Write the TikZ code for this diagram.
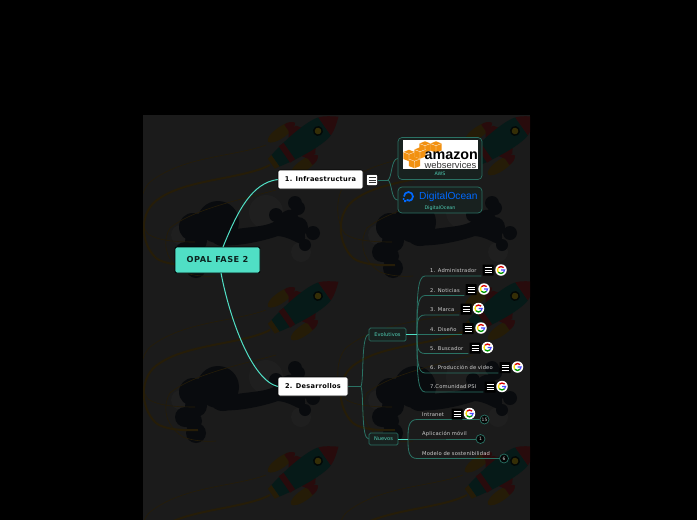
\documentclass[tikz,border=0pt]{standalone}
\usepackage{fontspec}
\setmainfont{DejaVu Sans}
\newfontfamily\logofont{Liberation Sans}
\usetikzlibrary{calc}
\definecolor{bgdark}{HTML}{1B1B1B}
\definecolor{mint}{HTML}{50DFC5}
\definecolor{dimteal}{HTML}{2A7264}
\definecolor{tealtext}{HTML}{4FCDB4}
\definecolor{boxfill}{HTML}{18211F}
\definecolor{leaftext}{HTML}{CFCFCF}
\definecolor{cloudA}{HTML}{090B0E}
\definecolor{cloudB}{HTML}{1F1F1F}
\definecolor{trail}{HTML}{261D08}
\definecolor{rbody}{HTML}{061A18}
\definecolor{rred}{HTML}{280B0C}
\definecolor{ryel}{HTML}{251C07}
\definecolor{awsorange}{HTML}{F29111}
\definecolor{docean}{HTML}{0069FF}
\tikzset{
  x=1pt,y=-1pt,
  rootbox/.style={draw=black,line width=.8pt,rounded corners=2pt,fill=mint,minimum width=85,minimum height=26,inner sep=0,font=\bfseries\fontsize{8.2}{9}\selectfont\addfontfeature{LetterSpace=6},text=black!85!mint},
  mainbox/.style={draw=black,line width=.6pt,rounded corners=2pt,fill=white,minimum height=19,inner sep=0,font=\bfseries\fontsize{6.6}{8}\selectfont\addfontfeature{LetterSpace=4},text=black},
  subbox/.style={draw=dimteal,line width=.7pt,rounded corners=1.5pt,fill=boxfill,inner sep=0,font=\fontsize{5.1}{6}\selectfont,text=tealtext},
  imgbox/.style={draw=dimteal,line width=.7pt,rounded corners=4pt,fill=boxfill,inner sep=0},
  imglabel/.style={inner sep=0,font=\fontsize{4.8}{6}\selectfont,text=tealtext},
  leaf/.style={inner sep=0,minimum height=10,anchor=south west,font=\fontsize{5.2}{6}\selectfont\addfontfeature{LetterSpace=3},text=leaftext,align=left},
  conn/.style={draw=dimteal,line width=.8pt},
  rootconn/.style={draw=mint,line width=1pt},
  count/.style={circle,draw=dimteal,line width=.7pt,fill=black!85!boxfill,minimum size=9,inner sep=0,font=\fontsize{4.5}{5}\selectfont,text=leaftext},
  menuicon/.style={fill=black,minimum size=11,inner sep=0,rounded corners=.5pt,path picture={
    \foreach \d in {-2.5,0,2.5}
      \draw[white,line width=.7pt] ($(path picture bounding box.center)+(-3.5,\d)$) -- ++(7,0);}},
  menulight/.style={fill=white,draw=black,line width=.5pt,minimum size=11,inner sep=0,rounded corners=1pt,path picture={
    \foreach \d in {-2.5,0,2.5}
      \draw[black!80,line width=.7pt] ($(path picture bounding box.center)+(-3.5,\d)$) -- ++(7,0);}},
  gicon/.style={circle,fill=white,minimum size=11.5,inner sep=0,path picture={
    \begin{scope}[shift={(path picture bounding box.center)},line cap=butt]
    \draw[line width=1.3pt,red!85!black] (-2.7,-2.3) .. controls (-1,-3.9) and (1,-3.9) .. (2.6,-2.4);
    \draw[line width=1.3pt,yellow!80!orange] (-2.7,-2.3) .. controls (-3.7,-1) and (-3.7,1) .. (-2.7,2.3);
    \draw[line width=1.3pt,green!60!black] (-2.7,2.3) .. controls (-1,3.9) and (1,3.9) .. (2.6,2.3);
    \draw[line width=1.1pt,blue!70!white] (.2,0) -- (3.6,0) .. controls (3.6,1) and (3.2,1.8) .. (2.6,2.3);
    \end{scope}
  }},
}
\newcommand{\tilepat}[2]{%
\begin{scope}[shift={(#1,#2)}]
  % grey cloud
  \fill[cloudB] (-52,81) circle (17) (-17,121) circle (10) (-137,104) circle (10);
  % dark cloud
  \fill[cloudA] (-100,91) circle (21) (-125,96) circle (14) (-95,100) circle (15) (-122,110) circle (11)
    (-133,121) circle (10) (-122,137) circle (10) (-125,125) circle (9)
    (-23,72) circle (7) (-20,77) circle (7) (-42,84) circle (7) (-5,102) circle (7) (-13,114) circle (6) (-20,96) circle (10);
  \fill[cloudA] (-92,100) .. controls (-70,95) and (-50,97) .. (-40,88) .. controls (-35,78) and (-25,75) .. (-20,85) .. controls (-15,95) and (-10,105) .. (-15,114) .. controls (-25,110) and (-30,106) .. (-40,105) .. controls (-55,110) and (-80,116) .. (-100,114) -- cycle;
  % trails (coordinates relative to the rocket's porthole)
  \draw[trail,line width=2pt] (-48,34) .. controls (-75,48) and (-130,48) .. (-158,67) .. controls (-180,80) and (-178,112) .. (-162,127) .. controls (-155,133) and (-135,135) .. (-120,134);
  \draw[trail,line width=.6pt] (-52,14) .. controls (-85,26) and (-135,25) .. (-168,51) .. controls (-180,62) and (-180,90) .. (-170,103) .. controls (-160,110) and (-140,111) .. (-123,111);
  \draw[trail,line width=.6pt] (-42,59) .. controls (-75,68) and (-125,78) .. (-148,97) .. controls (-155,108) and (-155,128) .. (-135,141) .. controls (-125,145) and (-110,146) .. (-102,145);
  % rocket
  \begin{scope}[rotate=35]
    \fill[ryel] (-31,20) ellipse (16 and 5.5);
    \fill[ryel] (-31,-20) ellipse (16 and 5.5);
    \fill[rred] (-24,24.5) .. controls (-20,25) and (-16,23) .. (-14,20) .. controls (-16,17) and (-20,15.5) .. (-24,15.5) -- cycle;
    \fill[rred] (-24,-24.5) .. controls (-20,-25) and (-16,-23) .. (-14,-20) .. controls (-16,-17) and (-20,-15.5) .. (-24,-15.5) -- cycle;
    \fill[rred] (-30,-8) -- (-24,-17) -- (-15,-17) -- (-10,-10) -- (-10,10) -- (-15,17) -- (-24,17) -- (-30,8) -- cycle;
    \fill[rbody] (-52,-7) .. controls (-35,-11) and (-5,-15) .. (8,-11) -- (8,11) .. controls (-5,15) and (-35,11) .. (-52,7) -- cycle;
    \fill[rred] (-41,-10) rectangle (-35,10);
    \fill[rred] (8,-11) .. controls (14,-9) and (20,-4) .. (25,0) .. controls (20,4) and (14,9) .. (8,11) -- cycle;
    \fill[ryel] (-57,-6) -- (-52,-7) -- (-52,7) -- (-57,6) -- cycle;
    \fill[black!70!rbody] (0,0) circle (5);
    \fill[ryel!90!yellow!90!black] (0,0) circle (3.3);
  \end{scope}
\end{scope}}
\begin{document}
\begin{tikzpicture}
\useasboundingbox (0,0) rectangle (697,520);
\fill[black] (0,0) rectangle (697,520);
\begin{scope}
  \clip (143,115) rectangle (530,520);
  \fill[bgdark] (143,115) rectangle (530,520);
  \foreach \cx in {318,515} \foreach \cy in {131,296,461} {\tilepat{\cx}{\cy}}
\end{scope}

% nodes
\node[rootbox] (root) at (217.5,260) {OPAL FASE 2};
\node[mainbox,minimum width=85] (infra) at (320.5,179.5) {1. Infraestructura};
\node[mainbox,minimum width=70] (desa) at (313,386.5) {2. Desarrollos};
\node[menulight] (m0) at (372,180) {};

\node[imgbox,minimum width=84,minimum height=42] (aws) at (440,158.5) {};
\node[imgbox,minimum width=84,minimum height=26] (do) at (440,200) {};

\node[subbox,minimum width=37,minimum height=13] (ev) at (387.5,334.5) {Evolutivos};
\node[subbox,minimum width=29,minimum height=12] (nu) at (383.5,439) {Nuevos};

\node[leaf,text width=56] (l1) at (425,276) {\hspace*{5pt}1. Administrador};
\node[leaf,text width=39] (l2) at (425,295.5) {\hspace*{5pt}2. Noticias};
\node[leaf,text width=34] (l3) at (425,315) {\hspace*{5pt}3. Marca};
\node[leaf,text width=37] (l4) at (425,334.5) {\hspace*{5pt}4. Diseño};
\node[leaf,text width=43] (l5) at (425,353.5) {\hspace*{5pt}5. Buscador};
\node[leaf,text width=73] (l6) at (425,373) {\hspace*{5pt}6. Producción de video};
\node[leaf,text width=58] (l7) at (425,392) {\hspace*{5pt}7.Comunidad PSI};

\node[leaf,text width=58] (n1) at (417,419.5) {\hspace*{5pt}Intranet};
\node[leaf,text width=58] (n2) at (417,439) {\hspace*{5pt}Aplicación móvil};
\node[leaf,text width=82] (n3) at (417,458.5) {\hspace*{5pt}Modelo de sostenibilidad};
\node[count] (c1) at (484.5,419.5) {15};
\node[count] (c2) at (480.5,439) {1};
\node[count] (c3) at (504,458.5) {6};

% connectors
\coordinate (t0) at (388,180);
\coordinate (t1) at (361,386.5);
\coordinate (t2) at (417,334.5);
\coordinate (t3) at (408,439);
\draw[rootconn] (223,247) .. controls (238,210) and (252,183) .. (infra.west);
\draw[rootconn] (221,273) .. controls (230,320) and (252,380) .. (desa.west);
\draw[conn] (m0.east) -- (t0);
\draw[conn] (t0) .. controls (392,178) and (391,159) .. (aws.west);
\draw[conn] (t0) .. controls (392,182) and (391,200) .. (do.west);
\draw[conn] (desa.east) -- (t1);
\draw[conn] (t1) .. controls (364,380) and (361,335) .. (ev.west);
\draw[conn] (t1) .. controls (364,395) and (361,439) .. (nu.west);
\foreach \n in {l1,l2,l3,l5,l6,l7} \draw[conn] (t2) .. controls ($(t2)!.6!(t2 |- \n.south west)$) and (t2 |- \n.south west) .. (\n.south west) -- (\n.south east);
\draw[conn] (t2) -- (l4.south west) -- (l4.south east);
\draw[mint,line width=.8pt] (ev.east) -- (t2);
\draw[conn] (t3) .. controls ($(t3)!.5!(t3 |- n1.south west)$) and (t3 |- n1.south west) .. (n1.south west) -- (c1.west);
\draw[conn] (t3) -- (n2.south west) -- (c2.west);
\draw[conn] (t3) .. controls ($(t3)!.5!(t3 |- n3.south west)$) and (t3 |- n3.south west) .. (n3.south west) -- (c3.west);
\draw[mint,line width=.8pt] (nu.east) -- (t3);

% icons on the branches
\node[menuicon] (mi1) at (488,270) {};
\node[gicon] (gg1) at (501,270) {};
\node[menuicon] (mi2) at (471,289.5) {};
\node[gicon] (gg2) at (484,289) {};
\node[menuicon] (mi3) at (466,309) {};
\node[gicon] (gg3) at (478.5,308.5) {};
\node[menuicon] (mi4) at (468,328.5) {};
\node[gicon] (gg4) at (481,328) {};
\node[menuicon] (mi5) at (475,348) {};
\node[gicon] (gg5) at (487.5,347.5) {};
\node[menuicon] (mi6) at (505,367.5) {};
\node[gicon] (gg6) at (517.5,367) {};
\node[menuicon] (mi7) at (490,387) {};
\node[gicon] (gg7) at (502,386.5) {};
\node[menuicon] (mi8) at (457,414) {};
\node[gicon] (gg8) at (469.5,413.5) {};

% AWS logo
\fill[white] (402.5,140) rectangle (477.5,168.5);
\foreach \p in {(425,147),(436,147),(409,155.5),(420,153),(414.5,162.5)}{
  \fill[awsorange] \p ++(-5.7,-3.5) -- ++(5.7,-2.2) -- ++(5.7,2.2) -- ++(0,7) -- ++(-5.7,2.2) -- ++(-5.7,-2.2) -- cycle;
  \draw[white,line width=.3pt] \p ++(-5.7,-3.5) -- ++(5.7,2.2) -- ++(5.7,-2.2) \p ++(0,-1.3) -- ++(0,7);
}
\node[inner sep=0,anchor=west,text=black] (awsa) at (424.5,155.5) {\logofont\bfseries\fontsize{14.3}{15}\selectfont amazon};
\node[inner sep=0,anchor=west,text=black!80] (awsb) at (424.5,165) {\logofont\fontsize{9.4}{10}\selectfont webservices};
\node[imglabel] (awsl) at (440,174) {AWS};
% DigitalOcean logo
\draw[docean,line width=1.7pt] (408.5,201) .. controls (411,201) and (413,199) .. (413,196.5) .. controls (413,194) and (411,192) .. (408.5,192) .. controls (406,192) and (404,194) .. (404,196.5);
\fill[docean] (406.5,199) rectangle (408.5,201) (404,200) rectangle (406,202) (402.8,198.2) rectangle (404.4,199.8);
\node[inner sep=0,anchor=west,text=docean] (dot) at (419,197) {\logofont\fontsize{10.2}{11}\selectfont DigitalOcean};
\node[imglabel] (dol) at (440,208) {DigitalOcean};
\end{tikzpicture}
\end{document}
